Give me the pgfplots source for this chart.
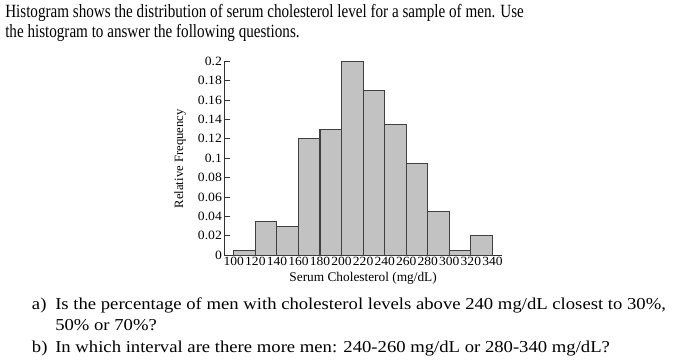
\documentclass[border=0pt]{standalone}
\usepackage{pgfplots}
\pgfplotsset{compat=1.18}
\usepackage{fontspec}
\setmainfont{Liberation Serif}
\newfontfamily\titlefont[FakeStretch=0.81]{Liberation Serif}
\newfontfamily\qfont[FakeStretch=1.12]{Liberation Serif}
\newfontfamily\tickfont[FakeStretch=1.08]{Liberation Serif}
\begin{document}
\begin{tikzpicture}[x=0.75pt,y=0.75pt]
\path[use as bounding box] (0,0) rectangle (689,360);
\node[anchor=base west,inner sep=0,font=\titlefont\fontsize{14}{16}\selectfont] at (5,{360-18}) {Histogram shows the distribution of serum cholesterol level for a sample of men. Use};
\node[anchor=base west,inner sep=0,font=\titlefont\fontsize{14}{16}\selectfont] at (5,{360-38}) {the histogram to answer the following questions.};
\node[anchor=base west,inner sep=0,font=\qfont\fontsize{12.5}{14}\selectfont] at (31.7,{360-310}) {a)};
\node[anchor=base west,inner sep=0,font=\qfont\fontsize{12.5}{14}\selectfont] at (55,{360-310}) {Is the percentage of men with cholesterol levels above 240 mg/dL closest to 30\%,};
\node[anchor=base west,inner sep=0,font=\qfont\fontsize{12.5}{14}\selectfont] at (55,{360-331}) {50\% or 70\%?};
\node[anchor=base west,inner sep=0,font=\qfont\fontsize{12.5}{14}\selectfont] at (31.7,{360-353}) {b)};
\node[anchor=base west,inner sep=0,font=\qfont\fontsize{12.5}{14}\selectfont] at (55,{360-353}) {In which interval are there more men: 240-260 mg/dL or 280-340 mg/dL?};
\begin{axis}[
  at={(208,108)}, anchor=south west,
  width=208.5pt, height=145.5pt, scale only axis,
  xmin=91, xmax=349, ymin=0, ymax=0.2,
  axis x line*=bottom, axis y line*=left,
  axis line style={black!80, line width=0.8pt},
  xtick={100,120,...,340},
  xticklabels={100,120,140,160,180,200,220,240,260,280,300,320,340},
  x tick style={draw=none},
  ytick={0,0.02,0.04,0.06,0.08,0.1,0.12,0.14,0.16,0.18,0.2},
  yticklabels={0,0.02,0.04,0.06,0.08,0.1,0.12,0.14,0.16,0.18,0.2},
  y tick style={black!80, line width=0.7pt},
  tick align=inside, major tick length=4.5pt,
  xticklabel style={font=\tickfont\fontsize{9.4}{9}\selectfont, inner sep=1pt},
  yticklabel style={font=\tickfont\fontsize{9.5}{10}\selectfont, inner sep=1.5pt},
  xlabel={Serum Cholesterol (mg/dL)},
  ylabel={Relative Frequency},
  xlabel style={font=\fontsize{10}{10}\selectfont, at={(axis description cs:0.5,-0.117)}, anchor=center},
  ylabel style={font=\fontsize{9.5}{10}\selectfont, at={(axis description cs:-0.158,0.497)}, anchor=center},
  clip=false,
]
\addplot[ybar interval, fill=black!24, draw=black!75, line width=0.8pt] coordinates {
(100,0.005) (120,0.035) (140,0.03) (160,0.12) (180,0.13) (200,0.2) (220,0.17) (240,0.135) (260,0.095) (280,0.045) (300,0.005) (320,0.02) (340,0.02)
};
\end{axis}
\end{tikzpicture}
\end{document}
